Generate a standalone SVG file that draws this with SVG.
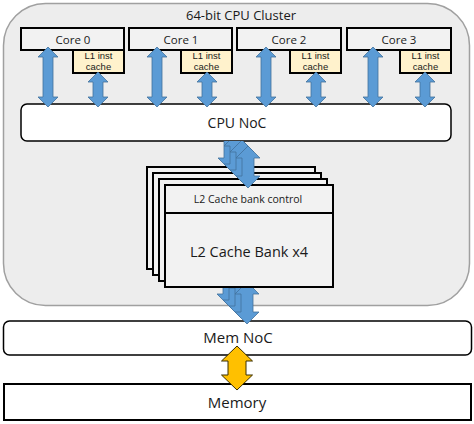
<svg xmlns="http://www.w3.org/2000/svg" xmlns:xlink="http://www.w3.org/1999/xlink" width="474" height="424" viewBox="0 0 474 424">
<style>
text{font-family:"Open Sans","Liberation Sans",sans-serif;fill:#1a1a1a;text-anchor:middle}
.box{fill:#F2F2F2;stroke:#000;stroke-width:2}
.l1{fill:#FFF2CC;stroke:#000;stroke-width:2}
text.l1t{font-family:"Liberation Sans",Arial,sans-serif;font-size:9.5px}
.noc{fill:#fff;stroke:#000;stroke-width:1.5}
.ba{fill:#5B9BD5;stroke:#41719C;stroke-width:0.8}
.ya{fill:#FFC000;stroke:#3a2e00;stroke-width:1}
</style>
<defs>
<path id="ca" d="M0,0 L10,10 L5,10 L5,50 L10,50 L0,60 L-10,50 L-5,50 L-5,10 L-10,10 Z"/>
<path id="la" d="M0,0 L10,10 L5,10 L5,25 L10,25 L0,35 L-10,25 L-5,25 L-5,10 L-10,10 Z"/>
<path id="sa" d="M0,0 L12,12 L6,12 L6,30 L12,30 L0,42 L-12,30 L-6,30 L-6,12 L-12,12 Z"/>
<clipPath id="clipTop"><rect x="150" y="141" width="200" height="60"/></clipPath>
<clipPath id="clipBot"><rect x="150" y="288" width="200" height="60"/></clipPath>
</defs>

<g id="cluster">
<rect x="3.5" y="3.5" width="466" height="302" rx="42" fill="#EDEDED" stroke="#A0A0A0" stroke-width="1.5"/>
<text x="241" y="20" font-size="13">64-bit CPU Cluster</text>
</g>

<g id="mem-noc">
<rect class="noc" x="3.5" y="321" width="468" height="34" rx="6"/>
<text x="238" y="343" font-size="15">Mem NoC</text>
</g>

<g id="memory">
<rect x="4" y="384" width="467" height="36" fill="#fff" stroke="#000" stroke-width="2"/>
<text x="237" y="408" font-size="15">Memory</text>
</g>

<g id="l2-bank">
<rect class="box" x="147" y="167" width="168" height="102"/>
<rect class="box" x="153" y="173" width="168" height="102"/>
<rect class="box" x="159" y="179" width="168" height="102"/>
<rect class="box" x="165" y="185" width="168" height="102"/>
<line x1="165" y1="213" x2="333" y2="213" stroke="#000" stroke-width="2"/>
<text x="248" y="203" font-size="10.5">L2 Cache bank control</text>
<text x="249" y="257" font-size="14.5">L2 Cache Bank x4</text>
</g>

<g id="cpu-noc">
<rect class="noc" x="21" y="104" width="430" height="37" rx="6"/>
<text x="237" y="128" font-size="14">CPU NoC</text>
</g>

<g id="core0">
<rect class="box" x="21" y="28" width="103" height="22"/>
<text x="73" y="43.5" font-size="11.5">Core 0</text>
</g>
<g id="core1">
<rect class="box" x="129" y="28" width="103" height="22"/>
<text x="181" y="43.5" font-size="11.5">Core 1</text>
</g>
<g id="core2">
<rect class="box" x="237" y="28" width="104" height="22"/>
<text x="289" y="43.5" font-size="11.5">Core 2</text>
</g>
<g id="core3">
<rect class="box" x="347" y="28" width="104" height="22"/>
<text x="399" y="43.5" font-size="11.5">Core 3</text>
</g>

<g id="l1-0">
<rect class="l1" x="73" y="50" width="51" height="23"/>
<text class="l1t" x="98.5" y="59">L1 inst</text>
<text class="l1t" x="98.5" y="70">cache</text>
</g>
<g id="l1-1">
<rect class="l1" x="181" y="50" width="51" height="23"/>
<text class="l1t" x="206.5" y="59">L1 inst</text>
<text class="l1t" x="206.5" y="70">cache</text>
</g>
<g id="l1-2">
<rect class="l1" x="290" y="50" width="51" height="23"/>
<text class="l1t" x="315.5" y="59">L1 inst</text>
<text class="l1t" x="315.5" y="70">cache</text>
</g>
<g id="l1-3">
<rect class="l1" x="400" y="50" width="51" height="23"/>
<text class="l1t" x="425.5" y="59">L1 inst</text>
<text class="l1t" x="425.5" y="70">cache</text>
</g>

<g id="connectors">
<use xlink:href="#ca" class="ba" x="48" y="47"/>
<use xlink:href="#ca" class="ba" x="157" y="47"/>
<use xlink:href="#ca" class="ba" x="266" y="47"/>
<use xlink:href="#ca" class="ba" x="373" y="47"/>
<use xlink:href="#la" class="ba" x="98" y="72"/>
<use xlink:href="#la" class="ba" x="207" y="72"/>
<use xlink:href="#la" class="ba" x="316" y="72"/>
<use xlink:href="#la" class="ba" x="425" y="72"/>
<g clip-path="url(#clipTop)">
<use xlink:href="#sa" class="ba" x="230" y="128"/>
<use xlink:href="#sa" class="ba" x="236" y="134"/>
<use xlink:href="#sa" class="ba" x="242" y="140"/>
<use xlink:href="#sa" class="ba" x="248" y="146"/>
</g>
<g clip-path="url(#clipBot)">
<use xlink:href="#sa" class="ba" x="229" y="264"/>
<use xlink:href="#sa" class="ba" x="235" y="270"/>
<use xlink:href="#sa" class="ba" x="241" y="276"/>
<use xlink:href="#sa" class="ba" x="247" y="282"/>
</g>
<path class="ya" d="M237,346 L252.5,361 L246,361 L246,375 L252.5,375 L237,390 L221.5,375 L228,375 L228,361 L221.5,361 Z"/>
</g>
</svg>
